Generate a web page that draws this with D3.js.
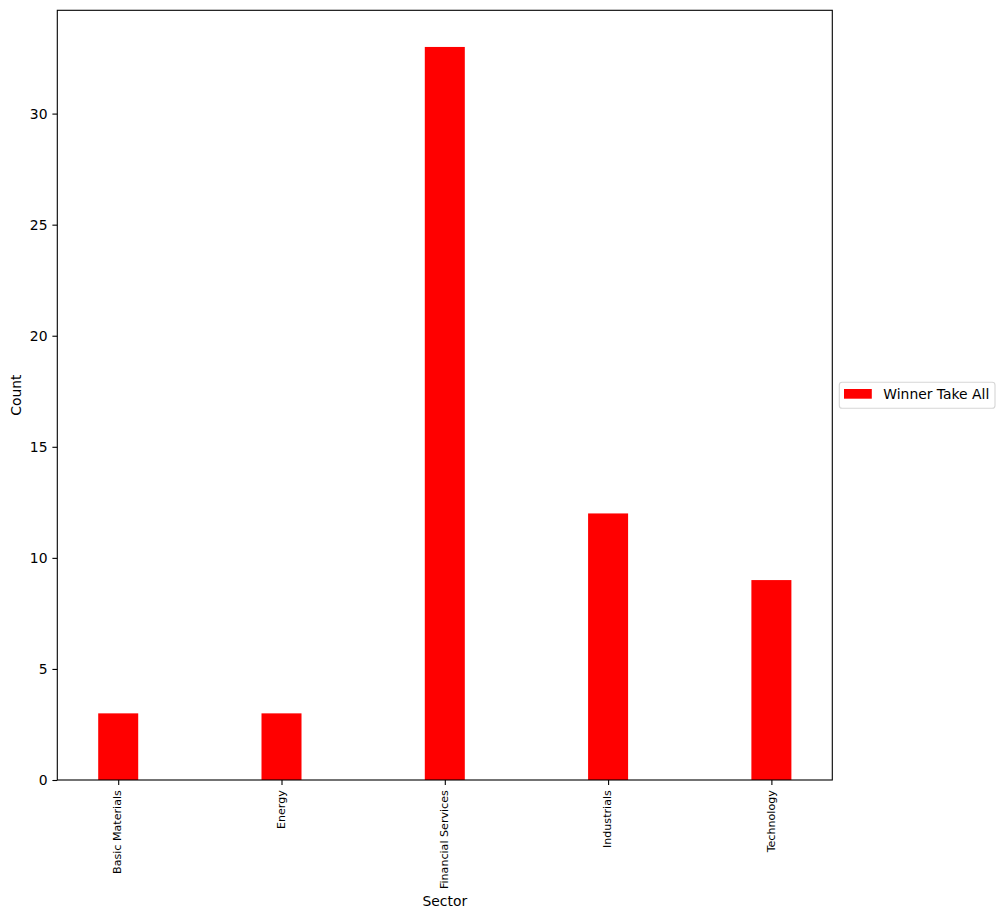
<!DOCTYPE html>
<html>
<head>
<meta charset="utf-8">
<script src="https://cdn.jsdelivr.net/npm/d3@7"></script>
<style>
  body { margin: 0; background: #fff; }
  text { font-family: "DejaVu Sans", sans-serif; fill: #000; }
</style>
</head>
<body>
<script>
// Chart data
const sectors = ['Basic Materials', 'Energy', 'Financial Services', 'Industrials', 'Technology'];
const counts = [3, 3, 33, 12, 9];
const seriesName = 'Winner Take All';
const yTicks = [0, 5, 10, 15, 20, 25, 30];

const W = 1004, H = 919;
const plot = { left: 57.3, right: 832.3, top: 10.3, bottom: 780 };
const tickFont = 13.9, smallFont = 11.1;

const svg = d3.select('body').append('svg')
    .attr('width', W)
    .attr('height', H);

// x positions are category indices, padded like matplotlib
const xScale = d3.scaleLinear()
    .domain([-0.373, sectors.length - 1 + 0.373])
    .range([plot.left, plot.right]);
const barWidth = 0.245;

const yScale = d3.scaleLinear()
    .domain([0, 34.65])
    .range([plot.bottom, plot.top]);

// bars
svg.append('g')
    .selectAll('rect')
    .data(counts)
    .join('rect')
    .attr('x', (d, i) => xScale(i - barWidth / 2))
    .attr('width', (d, i) => xScale(i + barWidth / 2) - xScale(i - barWidth / 2))
    .attr('y', (d) => yScale(d))
    .attr('height', (d) => yScale(0) - yScale(d))
    .attr('fill', '#ff0000');

// y axis
const yAxis = d3.axisLeft(yScale)
    .tickValues(yTicks)
    .tickSize(4.9)
    .tickPadding(4.9);
const gy = svg.append('g')
    .attr('transform', 'translate(' + plot.left + ',0)')
    .call(yAxis);
gy.select('.domain').remove();
gy.selectAll('.tick line').attr('stroke', '#000').attr('stroke-width', 1.1);
gy.selectAll('.tick text')
    .style('font-size', tickFont + 'px')
    .style('font-family', '"DejaVu Sans", sans-serif');

// x axis with rotated labels
const xAxis = d3.axisBottom(xScale)
    .tickValues(d3.range(sectors.length))
    .tickFormat((i) => sectors[i])
    .tickSize(4.9);
const gx = svg.append('g')
    .attr('transform', 'translate(0,' + plot.bottom + ')')
    .call(xAxis);
gx.select('.domain').remove();
gx.selectAll('.tick line').attr('stroke', '#000').attr('stroke-width', 1.1);
gx.selectAll('.tick text')
    .style('font-size', smallFont + 'px')
    .style('font-family', '"DejaVu Sans", sans-serif')
    .attr('text-anchor', 'end')
    .attr('dy', '0.24em')
    .attr('transform', 'translate(0,10.2) rotate(-90)')
    .attr('x', 0)
    .attr('y', 0);

// frame
svg.append('rect')
    .attr('x', plot.left)
    .attr('y', plot.top)
    .attr('width', plot.right - plot.left)
    .attr('height', plot.bottom - plot.top)
    .attr('fill', 'none')
    .attr('stroke', '#000')
    .attr('stroke-width', 1.1);

// axis titles
svg.append('text')
    .attr('x', (plot.left + plot.right) / 2)
    .attr('y', 906)
    .attr('text-anchor', 'middle')
    .style('font-size', tickFont + 'px')
    .text('Sector');

svg.append('text')
    .attr('transform', 'translate(20.7,' + (plot.top + plot.bottom) / 2 + ') rotate(-90)')
    .attr('text-anchor', 'middle')
    .style('font-size', tickFont + 'px')
    .text('Count');

// legend
const legend = svg.append('g');
legend.append('rect')
    .attr('x', 839.3)
    .attr('y', 382.3)
    .attr('width', 155.7)
    .attr('height', 26)
    .attr('rx', 2.8)
    .attr('fill', '#fff')
    .attr('stroke', '#d6d6d6')
    .attr('stroke-width', 1.1);
legend.append('rect')
    .attr('x', 844)
    .attr('y', 389)
    .attr('width', 27.8)
    .attr('height', 9.7)
    .attr('fill', '#ff0000');
legend.append('text')
    .attr('x', 883.3)
    .attr('y', 399)
    .style('font-size', tickFont + 'px')
    .text(seriesName);
</script>
</body>
</html>
